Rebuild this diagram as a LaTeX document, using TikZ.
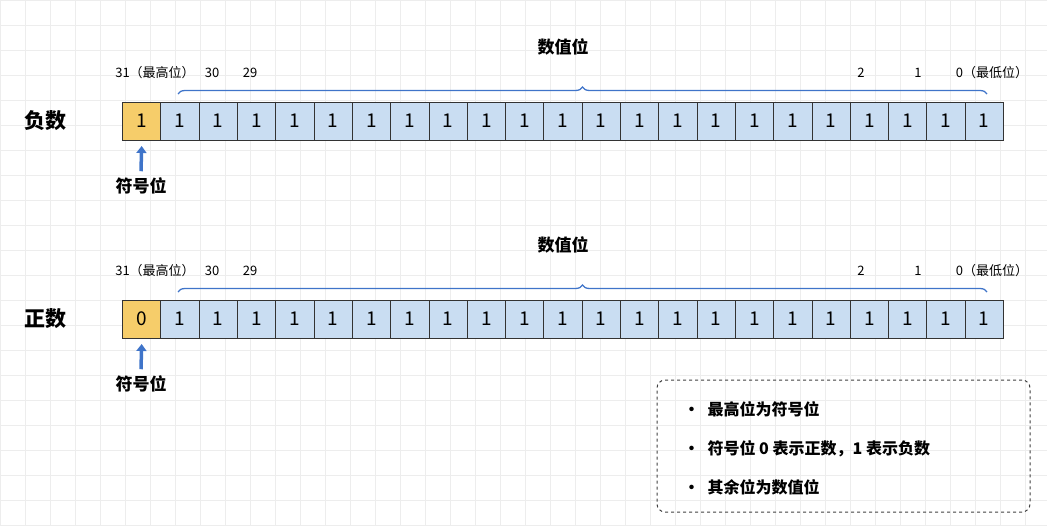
\documentclass[tikz,border=0pt]{standalone}
\usepackage{fontspec}
\setmainfont{Noto Sans CJK SC}
\usetikzlibrary{decorations.pathreplacing,arrows.meta}
\definecolor{cellblue}{HTML}{C9DDF2}
\definecolor{cellyellow}{HTML}{F6CD6A}
\definecolor{linkblue}{HTML}{3F74C9}
\begin{document}
\begin{tikzpicture}[
    x=1pt, y=-1pt,
    cell/.style={rectangle, draw=black!80, line width=0.8pt, minimum width=38.3pt, minimum height=38pt, inner sep=0pt, font=\fontsize{19}{19}\selectfont},
    signcell/.style={cell, fill=cellyellow},
    valuecell/.style={cell, fill=cellblue},
    bitlabel/.style={font=\fontsize{13}{13}\selectfont},
    rowlabel/.style={font=\bfseries\fontsize{21}{21}\selectfont},
    title/.style={font=\bfseries\fontsize{17}{17}\selectfont},
    note/.style={anchor=west, font=\bfseries\fontsize{16}{16}\selectfont},
    arrow/.style={-{Triangle[length=7pt,width=10pt]}, line width=3.5pt, linkblue},
    brace/.style={decorate, decoration={brace, amplitude=7pt}, draw=linkblue, line width=1.3pt}
]
\useasboundingbox (0,0) rectangle (1047,525);
% grid background
\foreach \gx in {0,25,...,1047} \draw[black!7, line width=0.5pt] (\gx,0) -- (\gx,525);
\foreach \gy in {0,25,...,525} \draw[black!7, line width=0.5pt] (0,\gy) -- (1047,\gy);

% two rows: negative and positive
\foreach \row/\ytop/\sign/\name in {neg/102/1/负数, pos/300/0/正数} {
  \node[rowlabel] (\row label) at (45,\ytop+19) {\name};
  \node[signcell] (\row0) at (141.65,\ytop+19) {\sign};
  \foreach \i in {1,...,22} {
    \node[valuecell] (\row\i) at (122.5+38.3*\i+19.15,\ytop+19) {1};
  }
  \coordinate (\row bl) at (178,\ytop-8);
  \coordinate (\row br) at (987,\ytop-8);
  \draw[brace] (\row bl) -- (\row br);
  \node[title] (\row title) at (563,\ytop-55) {数值位};
  \node[bitlabel] (\row b31) at (155,\ytop-29) {31（最高位）};
  \node[bitlabel] (\row b30) at (212,\ytop-29) {30};
  \node[bitlabel] (\row b29) at (250,\ytop-29) {29};
  \node[bitlabel] (\row b2) at (861,\ytop-29) {2};
  \node[bitlabel] (\row b1) at (918,\ytop-29) {1};
  \node[bitlabel] (\row b0) at (992,\ytop-29) {0（最低位）};
  \node[title] (\row sign) at (141,\ytop+84) {符号位};
  \draw[arrow] (\row sign.north) ++(0,-3) coordinate (\row tail) (\row tail) -- (\row0.south |- 0,\ytop+44);
}

% notes
\node[draw=black!75, dashed, line width=1pt, rounded corners=8pt, minimum width=373pt, minimum height=132pt] (notes) at (843.5,446) {};
\node[note] (note1) at (680,409) {\textbullet\enspace 最高位为符号位};
\node[note] (note2) at (680,449) {\textbullet\enspace 符号位 0 表示正数，1 表示负数};
\node[note] (note3) at (680,487) {\textbullet\enspace 其余位为数值位};

\end{tikzpicture}
\end{document}
